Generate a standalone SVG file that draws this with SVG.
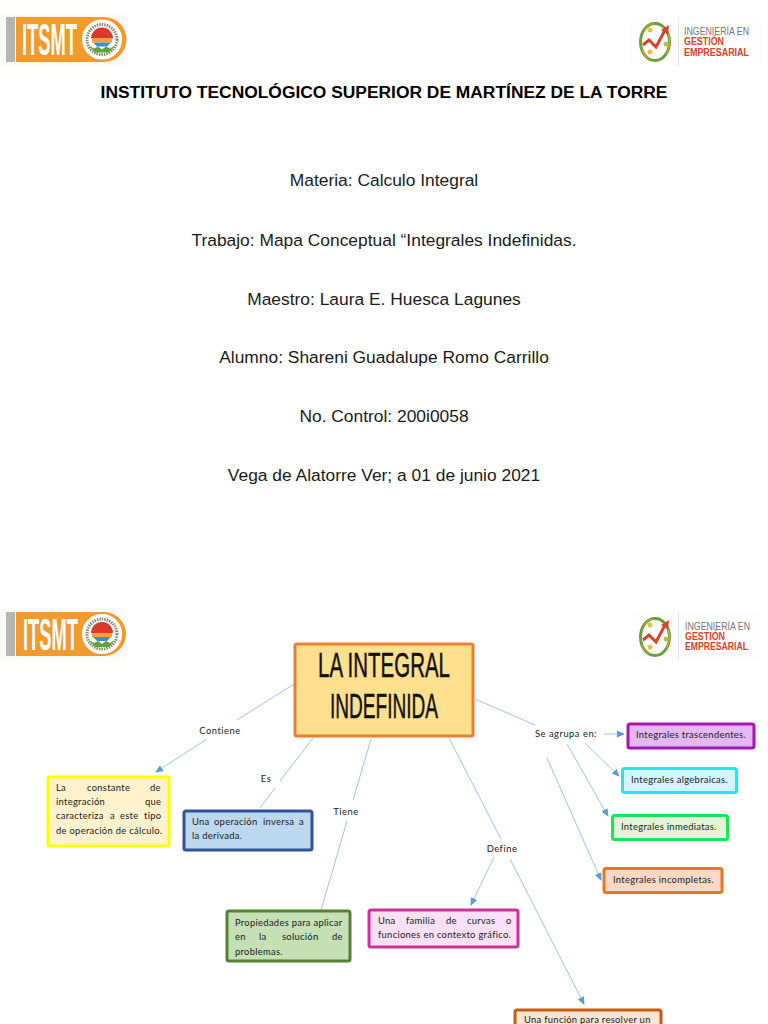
<svg xmlns="http://www.w3.org/2000/svg" width="768" height="1024" viewBox="0 0 768 1024">
<style>
.t{font-family:"Liberation Sans",Arial,sans-serif;font-size:17.4px;fill:#1a1a1a;text-anchor:middle}
.n{font-family:Lato,"Open Sans",sans-serif;font-size:9.4px;letter-spacing:.3px;fill:#1a1a1a}
.l{font-family:Lato,"Open Sans",sans-serif;font-size:9.4px;letter-spacing:.5px;fill:#1a1a1a;text-anchor:middle}
.c{fill:none;stroke:#9dc3e6;stroke-width:1}
.a{marker-end:url(#arr)}
.b{stroke-width:3}
.main{font-family:"Liberation Sans Narrow","Liberation Sans",sans-serif;font-size:35px;fill:#111;stroke:#111;stroke-width:.5;text-anchor:middle}
.itsmt{font-family:"Liberation Sans Narrow","Liberation Sans",sans-serif;font-weight:bold;font-size:45px;fill:#fff}
.ing{font-family:"Liberation Sans Narrow","Liberation Sans",sans-serif;font-size:11.5px;fill:#777}
.ges{font-family:"Liberation Sans","Noto Sans",sans-serif;font-weight:bold;font-size:10.5px;fill:#d8432b}
</style>
<defs>
<marker id="arr" markerWidth="8" markerHeight="7" refX="7" refY="3.5" orient="auto" markerUnits="userSpaceOnUse"><path d="M0 0L8 3.5L0 7Z" fill="#5b9bd5"/></marker>
<g id="seal">
<circle r="21" fill="#fff" stroke="#f39a2d" stroke-width="2"/>
<circle r="15" fill="none" stroke="#8a8a70" stroke-width="3" stroke-dasharray="1.5 1"/>
<path d="M-11 -1A11 11 0 0 1 11 -1Z" fill="#d93a2b"/>
<path d="M-10 -1H10V3H-10Z" fill="#f2a32c"/>
<path d="M-9 3H9L5 7H-5Z" fill="#3d8fcf"/>
<path d="M-13 6L-7 13H7L13 6L8 9L4 7L0 10L-4 7L-8 9Z" fill="#5da53a"/>
</g>
<g id="ring">
<ellipse rx="14.500" ry="18.500" fill="none" stroke="#6f9e3c" stroke-width="3"/>
<ellipse rx="14.500" ry="18.500" fill="none" stroke="#e8a33a" stroke-width="1" stroke-dasharray="12 20"/>
<circle cx="-5" cy="-12" r="2.500" fill="#e8c04c"/><circle cx="11" cy="2" r="2.500" fill="#b3c24a"/><circle cx="-5" cy="10" r="2.500" fill="#e8c04c"/>
<path d="M-12 3L-6 -2L1 5L10 -12" fill="none" stroke="#d8432b" stroke-width="3"/>
<path d="M6 -12L14 -17L13 -8Z" fill="#d8432b"/>
</g>
</defs>
<rect width="768" height="1024" fill="#fff"/>

<g id="logo-itsmt-top">
<rect x="0" y="14" width="127" height="52" fill="#fafaf8"/>
<rect x="6" y="17" width="9" height="45" fill="#b5b5b5"/>
<path d="M16 17H104A22.500 22.500 0 0 1 104 62H16Z" fill="#f39a2d"/>
<text class="itsmt" x="22" y="55" textLength="55" lengthAdjust="spacingAndGlyphs">ITSMT</text>
<use href="#seal" x="102" y="39.500"/>
</g>
<g id="logo-ige-top">
<rect x="630" y="18" width="132" height="48" fill="#fdfdfd"/>
<use href="#ring" x="655" y="42"/>
<rect x="678" y="17" width="1" height="49" fill="#e6e6e6"/>
<text class="ing" x="684" y="35" textLength="65" lengthAdjust="spacingAndGlyphs">INGENIERÍA EN</text>
<text class="ges" x="684" y="45" textLength="40" lengthAdjust="spacingAndGlyphs">GESTIÓN</text>
<text class="ges" x="684" y="56" textLength="65" lengthAdjust="spacingAndGlyphs">EMPRESARIAL</text>
</g>

<g id="cover">
<text class="t" x="384" y="98" style="font-weight:bold;fill:#000">INSTITUTO TECNOLÓGICO SUPERIOR DE MARTÍNEZ DE LA TORRE</text>
<text class="t" x="384" y="186">Materia: Calculo Integral</text>
<text class="t" x="384" y="246">Trabajo: Mapa Conceptual “Integrales Indefinidas.</text>
<text class="t" x="384" y="305">Maestro: Laura E. Huesca Lagunes</text>
<text class="t" x="384" y="363">Alumno: Shareni Guadalupe Romo Carrillo</text>
<text class="t" x="384" y="422">No. Control: 200i0058</text>
<text class="t" x="384" y="481">Vega de Alatorre Ver; a 01 de junio 2021</text>
</g>

<g id="logo-itsmt-bottom">
<rect x="0" y="608" width="127" height="52" fill="#fafaf8"/>
<rect x="6" y="612" width="9" height="44" fill="#b5b5b5"/>
<path d="M16 612H104A22 22 0 0 1 104 656H16Z" fill="#f39a2d"/>
<text class="itsmt" x="23" y="650" textLength="55" lengthAdjust="spacingAndGlyphs">ITSMT</text>
<use href="#seal" x="102" y="634"/>
</g>
<g id="logo-ige-bottom">
<rect x="632" y="612" width="128" height="48" fill="#fdfdfd"/>
<use href="#ring" x="655" y="637"/>
<rect x="678" y="612" width="1" height="49" fill="#e6e6e6"/>
<text class="ing" x="685" y="630" textLength="65" lengthAdjust="spacingAndGlyphs">INGENIERÍA EN</text>
<text class="ges" x="685" y="640" textLength="40" lengthAdjust="spacingAndGlyphs">GESTIÓN</text>
<text class="ges" x="685" y="650" textLength="63" lengthAdjust="spacingAndGlyphs">EMPRESARIAL</text>
</g>

<g id="connectors">
<path class="c" d="M294 684L237 720"/>
<path class="c a" d="M207 739L156 772"/>
<path class="c" d="M313 738L280 781"/>
<path class="c" d="M275 788L260 808"/>
<path class="c" d="M371 739L353 800"/>
<path class="c" d="M347 821L321 910"/>
<path class="c" d="M449 738L501 839"/>
<path class="c a" d="M494 857L471 905"/>
<path class="c a" d="M510 859L584 1004"/>
<path class="c" d="M475 699L535 725"/>
<path class="c a" d="M604 734L624 734"/>
<path class="c a" d="M585 743L619 776"/>
<path class="c a" d="M567 744L608 816"/>
<path class="c a" d="M547 758L601 880"/>
</g>

<g id="label-contiene"><text class="l" x="220" y="734">Contiene</text></g>
<g id="label-es"><text class="l" x="266" y="782">Es</text></g>
<g id="label-tiene"><text class="l" x="346" y="815">Tiene</text></g>
<g id="label-define"><text class="l" x="502" y="852">Define</text></g>
<g id="label-agrupa"><text class="l" x="566" y="737">Se agrupa en:</text></g>

<g id="node-main">
<rect class="b" x="295" y="644" width="178" height="92" rx="2" fill="#ffe08f" stroke="#ed7d31"/>
<text class="main" x="384" y="677" textLength="132" lengthAdjust="spacingAndGlyphs">LA INTEGRAL</text>
<text class="main" x="384" y="718" textLength="108" lengthAdjust="spacingAndGlyphs">INDEFINIDA</text>
</g>
<g id="node-constante">
<rect class="b" x="48" y="777" width="121" height="69" rx="2" fill="#fff2cc" stroke="#ffff00"/>
<text class="n" y="791"><tspan x="56">La</tspan><tspan x="87">constante</tspan><tspan x="150">de</tspan></text>
<text class="n" y="805"><tspan x="56">integración</tspan><tspan x="145">que</tspan></text>
<text class="n" y="819"><tspan x="56">caracteriza</tspan><tspan x="110">a</tspan><tspan x="120">este</tspan><tspan x="144">tipo</tspan></text>
<text class="n" x="56" y="834">de operación de cálculo.</text>
</g>
<g id="node-inversa">
<rect class="b" x="184" y="811" width="128" height="39" rx="2" fill="#bdd7ee" stroke="#2f5597"/>
<text class="n" y="825"><tspan x="192">Una</tspan><tspan x="214">operación</tspan><tspan x="263">inversa</tspan><tspan x="299">a</tspan></text>
<text class="n" x="192" y="839">la derivada.</text>
</g>
<g id="node-propiedades">
<rect class="b" x="227" y="911" width="123" height="50" rx="2" fill="#c5e0b4" stroke="#548235"/>
<text class="n" x="235" y="926">Propiedades para aplicar</text>
<text class="n" y="940"><tspan x="235">en</tspan><tspan x="259">la</tspan><tspan x="282">solución</tspan><tspan x="332">de</tspan></text>
<text class="n" x="235" y="955">problemas.</text>
</g>
<g id="node-familia">
<rect class="b" x="369" y="910" width="149" height="37" rx="2" fill="#fbe0f8" stroke="#cc3399"/>
<text class="n" y="924"><tspan x="378">Una</tspan><tspan x="406">familia</tspan><tspan x="446">de</tspan><tspan x="467">curvas</tspan><tspan x="506">o</tspan></text>
<text class="n" x="378" y="938">funciones en contexto gráfico.</text>
</g>
<g id="node-funcion">
<rect class="b" x="515" y="1010" width="146" height="30" rx="2" fill="#fbe5d6" stroke="#c55a11"/>
<text class="n" x="524" y="1023">Una función para resolver un</text>
</g>
<g id="node-trascendentes">
<rect class="b" x="628" y="724" width="126" height="24" rx="2" fill="#e4b8f5" stroke="#a515b0"/>
<text class="n" x="636" y="738">Integrales trascendentes.</text>
</g>
<g id="node-algebraicas">
<rect class="b" x="622.500" y="768.500" width="114" height="24" rx="2" fill="#d5f3f8" stroke="#22e5f0"/>
<text class="n" x="631" y="783">Integrales algebraicas.</text>
</g>
<g id="node-inmediatas">
<rect class="b" x="612.500" y="815.500" width="115" height="24" rx="2" fill="#e2f5d8" stroke="#14e84a"/>
<text class="n" x="621" y="830">Integrales inmediatas.</text>
</g>
<g id="node-incompletas">
<rect class="b" x="604" y="868.500" width="118" height="24" rx="2" fill="#fbd9c5" stroke="#e87722"/>
<text class="n" x="613" y="883">Integrales incompletas.</text>
</g>
</svg>
